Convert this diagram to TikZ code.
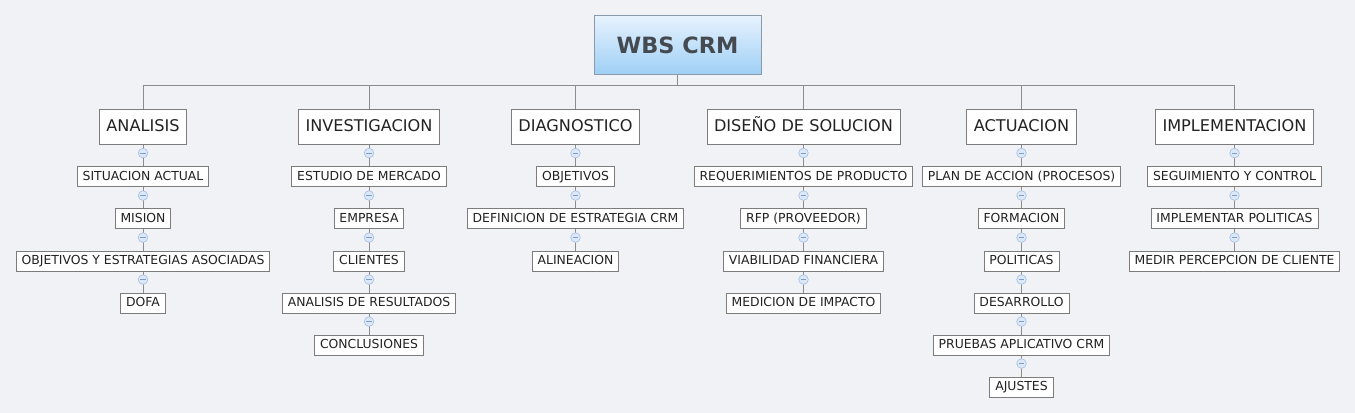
\documentclass[tikz,border=0pt]{standalone}
\usepackage{fontspec}
\setmainfont{DejaVu Sans}
\usetikzlibrary{positioning}

\definecolor{fondo}{HTML}{F1F2F6}
\definecolor{borde}{HTML}{7C7C7C}
\definecolor{conector}{HTML}{8C8C8C}
\definecolor{texto}{HTML}{222222}
\definecolor{textoRaiz}{HTML}{454A50}
\definecolor{azulClaro}{HTML}{E6F2FD}
\definecolor{azulOscuro}{HTML}{9ECFF6}
\definecolor{bordeRaiz}{HTML}{8A9AAA}
\definecolor{pliegueRelleno}{HTML}{DCE8F8}
\definecolor{pliegueBorde}{HTML}{A6C2E6}
\definecolor{pliegueMenos}{HTML}{7E9CC8}

\tikzset{
raiz/.style={draw=bordeRaiz, line width=0.75pt, top color=azulClaro, bottom color=azulOscuro,
  minimum width=125.25pt, minimum height=44.25pt, text=textoRaiz,
  font=\fontsize{16.8}{20}\selectfont\bfseries},
fase/.style={draw=borde, line width=0.75pt, fill=white, minimum height=26.25pt,
  inner xsep=5.25pt, inner ysep=0pt, text height=9.2pt, text depth=2.6pt, text=texto,
  font=\fontsize{12.1}{14.5}\selectfont},
tarea/.style={draw=borde, line width=0.75pt, fill=white, minimum height=15pt,
  inner xsep=4.1pt, inner ysep=0pt, text height=7pt, text depth=2pt, text=texto,
  font=\fontsize{9.3}{11}\selectfont},
pliegue/.style={circle, draw=pliegueBorde, line width=0.5pt, fill=pliegueRelleno,
  inner sep=0pt, minimum size=7.2pt,
  path picture={\draw[pliegueMenos, line width=0.5pt]
    ([xshift=-2pt]path picture bounding box.center) --
    ([xshift=2pt]path picture bounding box.center);}},
linea/.style={draw=conector, line width=0.75pt}
}

\begin{document}
\begin{tikzpicture}[x=0.75pt, y=-0.75pt]

% Fondo
\fill[fondo]
(0,0)
rectangle
(1355,413);

% Raiz
\node[raiz]
(WBS)
at (677.5,45.5)
{WBS CRM};

\coordinate
(bus)
at (677.5,85.5);

% Fases
\node[fase] (ANA) at (143,127) {ANALISIS};
\node[fase] (INV) at (369,127) {INVESTIGACION};
\node[fase] (DIA) at (575.5,127) {DIAGNOSTICO};
\node[fase] (DIS) at (803.5,127) {DISEÑO DE SOLUCION};
\node[fase] (ACT) at (1021.5,127) {ACTUACION};
\node[fase] (IMP) at (1234.5,127) {IMPLEMENTACION};

% Analisis
\node[tarea] (A1) at (143,177) {SITUACION ACTUAL};
\node[tarea] (A2) at (143,219) {MISION};
\node[tarea] (A3) at (143,261) {OBJETIVOS Y ESTRATEGIAS ASOCIADAS};
\node[tarea] (A4) at (143,303) {DOFA};

% Investigacion
\node[tarea] (I1) at (369,177) {ESTUDIO DE MERCADO};
\node[tarea] (I2) at (369,219) {EMPRESA};
\node[tarea] (I3) at (369,261) {CLIENTES};
\node[tarea] (I4) at (369,303) {ANALISIS DE RESULTADOS};
\node[tarea] (I5) at (369,345) {CONCLUSIONES};

% Diagnostico
\node[tarea] (D1) at (575.5,177) {OBJETIVOS};
\node[tarea] (D2) at (575.5,219) {DEFINICION DE ESTRATEGIA CRM};
\node[tarea] (D3) at (575.5,261) {ALINEACION};

% Diseño de solucion
\node[tarea] (S1) at (803.5,177) {REQUERIMIENTOS DE PRODUCTO};
\node[tarea] (S2) at (803.5,219) {RFP (PROVEEDOR)};
\node[tarea] (S3) at (803.5,261) {VIABILIDAD FINANCIERA};
\node[tarea] (S4) at (803.5,303) {MEDICION DE IMPACTO};

% Actuacion
\node[tarea] (C1) at (1021.5,177) {PLAN DE ACCION (PROCESOS)};
\node[tarea] (C2) at (1021.5,219) {FORMACION};
\node[tarea] (C3) at (1021.5,261) {POLITICAS};
\node[tarea] (C4) at (1021.5,303) {DESARROLLO};
\node[tarea] (C5) at (1021.5,345) {PRUEBAS APLICATIVO CRM};
\node[tarea] (C6) at (1021.5,387) {AJUSTES};

% Implementacion
\node[tarea] (M1) at (1234.5,177) {SEGUIMIENTO Y CONTROL};
\node[tarea] (M2) at (1234.5,219) {IMPLEMENTAR POLITICAS};
\node[tarea] (M3) at (1234.5,261) {MEDIR PERCEPCION DE CLIENTE};

% Conectores raiz - fases
\draw[linea]
(WBS.south)
--
(bus);

\foreach \f in {ANA,INV,DIA,DIS,ACT,IMP}
\draw[linea]
(bus)
-|
(\f.north);

% Conectores en columna y pliegues
\foreach \p/\h in {ANA/A1,A1/A2,A2/A3,A3/A4,
  INV/I1,I1/I2,I2/I3,I3/I4,I4/I5,
  DIA/D1,D1/D2,D2/D3,
  DIS/S1,S1/S2,S2/S3,S3/S4,
  ACT/C1,C1/C2,C2/C3,C3/C4,C4/C5,C5/C6,
  IMP/M1,M1/M2,M2/M3}
{
\draw[linea]
(\p.south)
--
(\h.north);

\node[pliegue, below=2.2pt of \p]
(f\p)
{};
}

\end{tikzpicture}
\end{document}
